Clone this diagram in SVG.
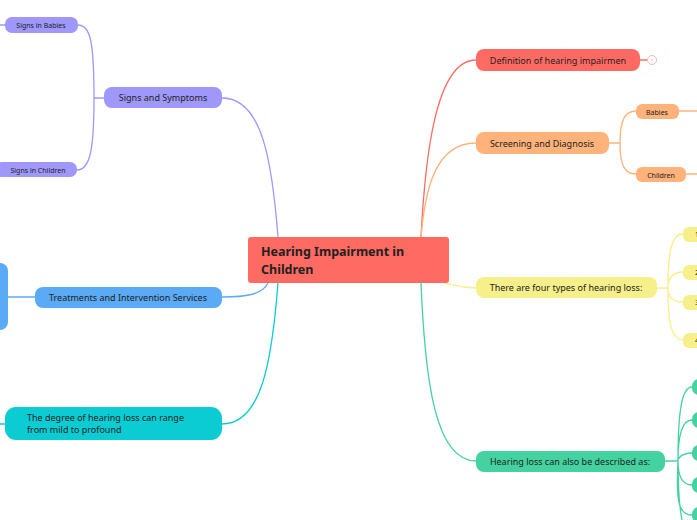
<svg xmlns="http://www.w3.org/2000/svg" width="697" height="520" viewBox="0 0 697 520">
<style>
text{font-family:"Noto Sans","Open Sans",sans-serif;fill:#222;}
.c{fill:none;stroke-width:1.3}
.t{font-size:9px}
.s{font-size:7px}
</style>
<rect width="697" height="520" fill="#fff"/>
<g id="connectors">
<path class="c" stroke="#9F98FA" d="M278,237 C272,160 262,98 222,98"/>
<path class="c" stroke="#9F98FA" d="M104,98 H94 M94,98 C94,40 90,25 78,25 M94,98 C94,150 90,170 77,170 M5,25 H0"/>
<path class="c" stroke="#5AAAF5" d="M268,283 C262,295 245,297 222,297 M35,297 H8"/>
<path class="c" stroke="#0ACCD2" d="M278,283 C272,360 262,424 222,424 M5,424 H0"/>
<path class="c" stroke="#FF6B63" d="M421,237 C425,160 435,60 476,60 M640,60 H647"/>
<path class="c" stroke="#FFB27A" d="M421,237 C425,190 435,143 476,143 M609,143 H620 M620,143 C620,120 625,111 636,111 M620,143 C620,166 625,174 636,174 M679,111 H697 M686,174 H697"/>
<path class="c" stroke="#F7F08A" d="M444,283 C455,285 460,288 476,288 M657,288 H668 M668,288 C668,250 672,234 683,234 M668,288 C668,278 672,272 683,272 M668,288 C668,296 672,302 683,302 M668,288 C668,325 672,340 683,340"/>
<path class="c" stroke="#44D3A0" d="M421,283 C425,380 435,461 476,461 M665,461 H678 M678,461 C678,410 682,387 692,387 M678,461 C678,435 682,420 692,420 M678,461 C678,458 682,453 692,453 M678,461 C678,475 682,485 692,485 M678,461 C678,490 680,510 682,520 M678,461 C676,500 678,515 692,515"/>
</g>
<g id="central"><rect x="248" y="237" width="201" height="46" rx="3" fill="#FF6B63"/>
<text x="261" y="256" style="font-size:12.5px;font-weight:bold">Hearing Impairment in</text>
<text x="261" y="274" style="font-size:12.5px;font-weight:bold">Children</text></g>
<g id="signs"><rect x="104" y="87" width="118" height="21" rx="8" fill="#9F98FA"/><text class="t" x="163" y="101" text-anchor="middle">Signs and Symptoms</text></g>
<g id="babies-signs"><rect x="5" y="17" width="73" height="16" rx="7" fill="#9F98FA"/><text class="s" x="41" y="28" text-anchor="middle">Signs in Babies</text></g>
<g id="children-signs"><rect x="-5" y="162" width="82" height="15" rx="7" fill="#9F98FA"/><text class="s" x="38" y="173" text-anchor="middle">Signs in Children</text></g>
<g id="treat"><rect x="35" y="287" width="187" height="21" rx="8" fill="#5AAAF5"/><text class="t" x="128" y="301" text-anchor="middle">Treatments and Intervention Services</text></g>
<g id="treat-child"><rect x="-20" y="263" width="28" height="67" rx="8" fill="#5AAAF5"/></g>
<g id="degree"><rect x="5" y="407" width="217" height="33" rx="11" fill="#0ACCD2"/><text class="t" x="27" y="421">The degree of hearing loss can range</text><text class="t" x="27" y="433">from mild to profound</text></g>
<g id="definition"><rect x="476" y="49" width="164" height="22" rx="8" fill="#FF6B63"/><text class="t" x="558" y="64" text-anchor="middle">Definition of hearing impairmen</text>
<circle cx="652" cy="60" r="4.5" fill="#fff" stroke="#FFA0A0" stroke-width="0.8"/><text x="652" y="62.5" style="font-size:5px;fill:#FFA0A0" text-anchor="middle">1</text></g>
<g id="screening"><rect x="476" y="132" width="133" height="22" rx="8" fill="#FFB27A"/><text class="t" x="542" y="147" text-anchor="middle">Screening and Diagnosis</text></g>
<g id="babies"><rect x="636" y="104" width="43" height="15" rx="6" fill="#FFB27A"/><text class="s" x="657" y="114.5" text-anchor="middle">Babies</text></g>
<g id="children"><rect x="636" y="167" width="50" height="15" rx="6" fill="#FFB27A"/><text class="s" x="661" y="177.5" text-anchor="middle">Children</text></g>
<g id="types"><rect x="476" y="277" width="181" height="21" rx="8" fill="#F7F08A"/><text class="t" x="566" y="291" text-anchor="middle">There are four types of hearing loss:</text></g>
<g id="t1"><rect x="683" y="227" width="30" height="15" rx="6" fill="#F7F08A"/><text class="s" x="695" y="237">1</text></g>
<g id="t2"><rect x="683" y="265" width="30" height="15" rx="6" fill="#F7F08A"/><text class="s" x="695" y="275">2</text></g>
<g id="t3"><rect x="683" y="295" width="30" height="15" rx="6" fill="#F7F08A"/><text class="s" x="695" y="305">3</text></g>
<g id="t4"><rect x="683" y="333" width="30" height="15" rx="6" fill="#F7F08A"/><text class="s" x="695" y="343">4</text></g>
<g id="described"><rect x="476" y="451" width="189" height="21" rx="8" fill="#44D3A0"/><text class="t" x="570" y="465" text-anchor="middle">Hearing loss can also be described as:</text></g>
<g id="d1"><rect x="692" y="379" width="20" height="16" rx="7" fill="#44D3A0"/></g>
<g id="d2"><rect x="692" y="412" width="20" height="16" rx="7" fill="#44D3A0"/></g>
<g id="d3"><rect x="692" y="445" width="20" height="16" rx="7" fill="#44D3A0"/></g>
<g id="d4"><rect x="692" y="477" width="20" height="16" rx="7" fill="#44D3A0"/></g>
<g id="d5"><rect x="692" y="507" width="20" height="16" rx="7" fill="#44D3A0"/></g>
</svg>
